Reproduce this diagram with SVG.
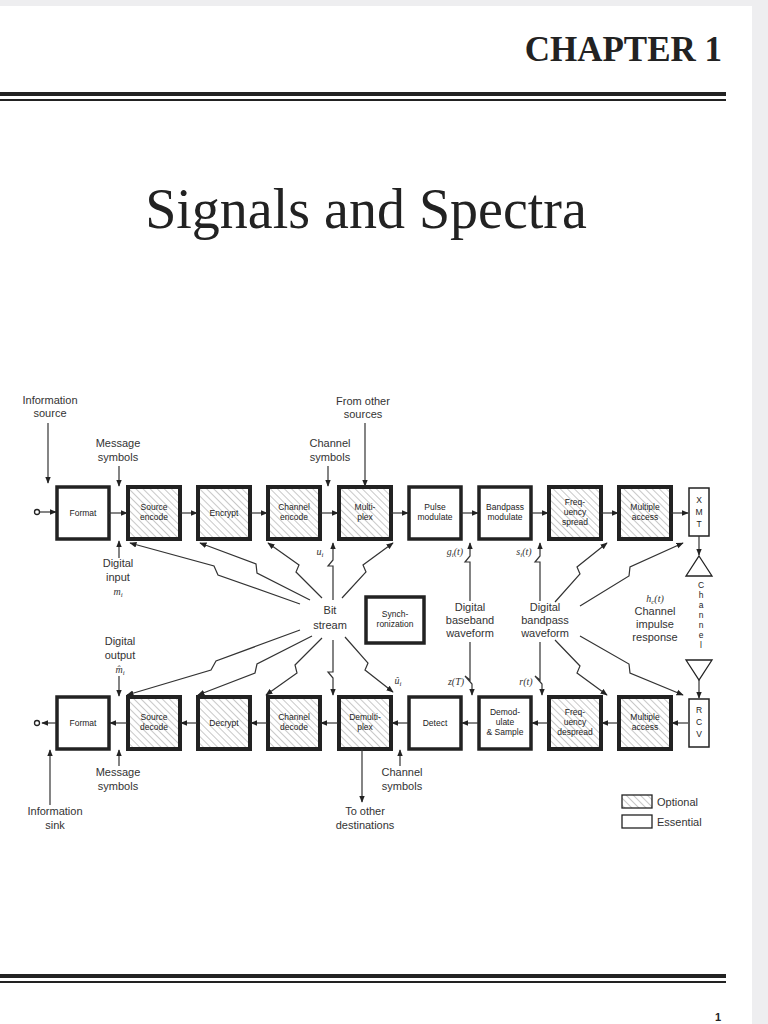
<svg xmlns="http://www.w3.org/2000/svg" width="768" height="1024" viewBox="0 0 768 1024">
<defs>
<pattern id="hatch" width="5" height="5" patternUnits="userSpaceOnUse" patternTransform="rotate(-45)">
<rect width="5" height="5" fill="#fff"/><line x1="0" y1="0" x2="0" y2="5" stroke="#aaa" stroke-width="1.3"/>
</pattern>
<marker id="ah" viewBox="0 0 10 10" refX="9" refY="5" markerWidth="6" markerHeight="6" orient="auto"><path d="M0,1 L10,5 L0,9 Z" fill="#222"/></marker>
</defs>
<style>
.t{font-family:"Liberation Sans",Arial,sans-serif;font-size:11px;fill:#333;text-anchor:middle}
.s{font-family:"Liberation Sans",Arial,sans-serif;font-size:11px;fill:#333}
.b{font-family:"Liberation Sans",Arial,sans-serif;font-size:8.5px;fill:#222;text-anchor:middle}
.m{font-family:"Liberation Serif",serif;font-style:italic;font-size:10px;fill:#333;text-anchor:middle}
.opt{fill:url(#hatch);stroke:#222;stroke-width:4}
.ess{fill:#fff;stroke:#222;stroke-width:3.5}
.thin{fill:#fff;stroke:#222;stroke-width:1.5}
.c{fill:none;stroke:#333;stroke-width:1.2;marker-end:url(#ah)}
</style>
<rect width="768" height="1024" fill="#fff"/>
<rect x="752" y="0" width="16" height="1024" fill="#eeeef0"/>
<rect x="0" y="0" width="768" height="6" fill="#eeeef0"/>
<text x="722" y="61" font-family="Liberation Serif,serif" font-size="35" font-weight="bold" text-anchor="end" fill="#222">CHAPTER 1</text>
<rect x="0" y="92" width="726" height="4" fill="#222"/><rect x="0" y="99" width="726" height="2" fill="#222"/>
<text x="366" y="228" font-family="Liberation Serif,serif" font-size="56" text-anchor="middle" fill="#222">Signals and Spectra</text>
<rect x="0" y="974" width="726" height="4" fill="#222"/><rect x="0" y="981" width="726" height="2" fill="#222"/>
<text x="718" y="1021" font-family="Liberation Sans,sans-serif" font-size="11" font-weight="bold" text-anchor="middle" fill="#222">1</text>

<g id="tx-format"><rect x="57" y="487" width="52" height="52" class="ess"/><text x="83" y="516" class="b">Format</text></g>
<g id="tx-srcenc"><rect x="128" y="487" width="52" height="52" class="opt"/><text x="154" y="510" class="b">Source</text><text x="154" y="520" class="b">encode</text></g>
<g id="tx-encrypt"><rect x="198" y="487" width="52" height="52" class="opt"/><text x="224" y="516" class="b">Encrypt</text></g>
<g id="tx-chenc"><rect x="268" y="487" width="52" height="52" class="opt"/><text x="294" y="510" class="b">Channel</text><text x="294" y="520" class="b">encode</text></g>
<g id="tx-mux"><rect x="339" y="487" width="52" height="52" class="opt"/><text x="365" y="510" class="b">Multi-</text><text x="365" y="520" class="b">plex</text></g>
<g id="tx-pulse"><rect x="409" y="487" width="52" height="52" class="ess"/><text x="435" y="510" class="b">Pulse</text><text x="435" y="520" class="b">modulate</text></g>
<g id="tx-bp"><rect x="479" y="487" width="52" height="52" class="ess"/><text x="505" y="510" class="b">Bandpass</text><text x="505" y="520" class="b">modulate</text></g>
<g id="tx-fs"><rect x="549" y="487" width="52" height="52" class="opt"/><text x="575" y="505" class="b">Freq-</text><text x="575" y="515" class="b">uency</text><text x="575" y="525" class="b">spread</text></g>
<g id="tx-ma"><rect x="619" y="487" width="52" height="52" class="opt"/><text x="645" y="510" class="b">Multiple</text><text x="645" y="520" class="b">access</text></g>
<g id="xmt"><rect x="689" y="488" width="20" height="48" class="thin"/><text x="699" y="503" class="b" font-size="10">X</text><text x="699" y="515" class="b" font-size="10">M</text><text x="699" y="527" class="b" font-size="10">T</text></g>

<g id="rx-format"><rect x="57" y="697" width="52" height="52" class="ess"/><text x="83" y="726" class="b">Format</text></g>
<g id="rx-srcdec"><rect x="128" y="697" width="52" height="52" class="opt"/><text x="154" y="720" class="b">Source</text><text x="154" y="730" class="b">decode</text></g>
<g id="rx-decrypt"><rect x="198" y="697" width="52" height="52" class="opt"/><text x="224" y="726" class="b">Decrypt</text></g>
<g id="rx-chdec"><rect x="268" y="697" width="52" height="52" class="opt"/><text x="294" y="720" class="b">Channel</text><text x="294" y="730" class="b">decode</text></g>
<g id="rx-demux"><rect x="339" y="697" width="52" height="52" class="opt"/><text x="365" y="720" class="b">Demulti-</text><text x="365" y="730" class="b">plex</text></g>
<g id="rx-detect"><rect x="409" y="697" width="52" height="52" class="ess"/><text x="435" y="726" class="b">Detect</text></g>
<g id="rx-demod"><rect x="479" y="697" width="52" height="52" class="ess"/><text x="505" y="715" class="b">Demod-</text><text x="505" y="725" class="b">ulate</text><text x="505" y="735" class="b">&amp; Sample</text></g>
<g id="rx-fd"><rect x="549" y="697" width="52" height="52" class="opt"/><text x="575" y="715" class="b">Freq-</text><text x="575" y="725" class="b">uency</text><text x="575" y="735" class="b">despread</text></g>
<g id="rx-ma"><rect x="619" y="697" width="52" height="52" class="opt"/><text x="645" y="720" class="b">Multiple</text><text x="645" y="730" class="b">access</text></g>
<g id="rcv"><rect x="689" y="699" width="20" height="48" class="thin"/><text x="699" y="713" class="b" font-size="10">R</text><text x="699" y="725" class="b" font-size="10">C</text><text x="699" y="737" class="b" font-size="10">V</text></g>

<g id="sync"><rect x="366" y="597" width="58" height="46" class="ess" stroke-width="3"/><text x="395" y="617" class="b">Synch-</text><text x="395" y="627" class="b">ronization</text></g>
<g id="bitstream"><text x="330" y="614" class="t">Bit</text><text x="330" y="629" class="t">stream</text></g>
<g id="baseband"><text x="470" y="611" class="t">Digital</text><text x="470" y="624" class="t">baseband</text><text x="470" y="637" class="t">waveform</text></g>
<g id="bandpass"><text x="545" y="611" class="t">Digital</text><text x="545" y="624" class="t">bandpass</text><text x="545" y="637" class="t">waveform</text></g>
<g id="channel">
<text x="655" y="602" class="m">h<tspan font-size="7" dy="2">c</tspan><tspan dy="-2">(t)</tspan></text>
<text x="655" y="615" class="t">Channel</text><text x="655" y="628" class="t">impulse</text><text x="655" y="641" class="t">response</text>
<polygon points="699,556 712,576 686,576" fill="#fff" stroke="#222" stroke-width="1.3"/>
<polygon points="686,660 712,660 699,680" fill="#fff" stroke="#222" stroke-width="1.3"/>
<g><text x="701" y="588" class="b" font-size="8">C</text><text x="701" y="598" class="b" font-size="8">h</text><text x="701" y="608" class="b" font-size="8">a</text><text x="701" y="618" class="b" font-size="8">n</text><text x="701" y="628" class="b" font-size="8">n</text><text x="701" y="638" class="b" font-size="8">e</text><text x="701" y="648" class="b" font-size="8">l</text></g>
</g>
<g id="labels">
<text x="50" y="404" class="t">Information</text><text x="50" y="417" class="t">source</text>
<text x="118" y="447" class="t">Message</text><text x="118" y="461" class="t">symbols</text>
<text x="330" y="447" class="t">Channel</text><text x="330" y="461" class="t">symbols</text>
<text x="363" y="405" class="t">From other</text><text x="363" y="418" class="t">sources</text>
<text x="118" y="567" class="t">Digital</text><text x="118" y="581" class="t">input</text><text x="118" y="595" class="m">m<tspan font-size="7" dy="2">i</tspan></text>
<text x="120" y="645" class="t">Digital</text><text x="120" y="659" class="t">output</text><text x="120" y="673" class="m">m̂<tspan font-size="7" dy="2">i</tspan></text>
<text x="118" y="776" class="t">Message</text><text x="118" y="790" class="t">symbols</text>
<text x="55" y="815" class="t">Information</text><text x="55" y="829" class="t">sink</text>
<text x="402" y="776" class="t">Channel</text><text x="402" y="790" class="t">symbols</text>
<text x="365" y="815" class="t">To other</text><text x="365" y="829" class="t">destinations</text>
<text x="320" y="555" class="m">u<tspan font-size="7" dy="2">i</tspan></text>
<text x="398" y="684" class="m">û<tspan font-size="7" dy="2">i</tspan></text>
<text x="455" y="555" class="m">g<tspan font-size="7" dy="2">i</tspan><tspan dy="-2">(t)</tspan></text>
<text x="524" y="555" class="m">s<tspan font-size="7" dy="2">i</tspan><tspan dy="-2">(t)</tspan></text>
<text x="456" y="685" class="m">z(T)</text>
<text x="526" y="685" class="m">r(t)</text>
</g>
<g id="legend">
<rect x="622" y="795" width="30" height="13" fill="url(#hatch)" stroke="#222" stroke-width="1.3"/><text x="657" y="806" class="s">Optional</text>
<rect x="622" y="815" width="30" height="13" fill="#fff" stroke="#222" stroke-width="1.3"/><text x="657" y="826" class="s">Essential</text>
</g>

<g id="connectors">
<circle cx="37" cy="512" r="2.5" fill="#fff" stroke="#222" stroke-width="1.3"/>
<line x1="40" y1="512" x2="56" y2="512" class="c"/>
<line x1="109" y1="513" x2="127" y2="513" class="c"/>
<line x1="180" y1="513" x2="197" y2="513" class="c"/>
<line x1="250" y1="513" x2="267" y2="513" class="c"/>
<line x1="320" y1="513" x2="338" y2="513" class="c"/>
<line x1="391" y1="513" x2="408" y2="513" class="c"/>
<line x1="461" y1="513" x2="478" y2="513" class="c"/>
<line x1="531" y1="513" x2="548" y2="513" class="c"/>
<line x1="601" y1="513" x2="618" y2="513" class="c"/>
<line x1="671" y1="513" x2="688" y2="513" class="c"/>
<line x1="699" y1="536" x2="699" y2="555" class="c"/>
<line x1="699" y1="680" x2="699" y2="698" class="c"/>
<line x1="688" y1="723" x2="672" y2="723" class="c"/>
<line x1="618" y1="723" x2="602" y2="723" class="c"/>
<line x1="548" y1="723" x2="532" y2="723" class="c"/>
<line x1="478" y1="723" x2="462" y2="723" class="c"/>
<line x1="408" y1="723" x2="392" y2="723" class="c"/>
<line x1="338" y1="723" x2="321" y2="723" class="c"/>
<line x1="267" y1="723" x2="251" y2="723" class="c"/>
<line x1="197" y1="723" x2="181" y2="723" class="c"/>
<line x1="127" y1="723" x2="110" y2="723" class="c"/>
<line x1="56" y1="723" x2="42" y2="723" class="c"/>
<circle cx="37" cy="723" r="2.5" fill="#fff" stroke="#222" stroke-width="1.3"/>
<line x1="48" y1="423" x2="48" y2="483" class="c"/>
<line x1="119" y1="466" x2="119" y2="486" class="c"/>
<line x1="119" y1="558" x2="119" y2="541" class="c"/>
<line x1="328" y1="466" x2="328" y2="486" class="c"/>
<line x1="365" y1="423" x2="365" y2="486" class="c"/>
<line x1="119" y1="676" x2="119" y2="696" class="c"/>
<line x1="119" y1="766" x2="119" y2="750" class="c"/>
<line x1="50" y1="805" x2="50" y2="750" class="c"/>
<line x1="400" y1="766" x2="400" y2="750" class="c"/>
<line x1="362" y1="749" x2="362" y2="802" class="c"/>
<path d="M300,604 L218,575 L214,566 L130,543" class="c"/>
<path d="M310,600 L257,573 L256,564 L200,543" class="c"/>
<path d="M322,598 L296,572 L299,565 L268,543" class="c"/>
<path d="M333,600 L333,566 L328,566 L333,560 L333,543" class="c"/>
<path d="M342,598 L366,572 L363,565 L393,543" class="c"/>
<path d="M300,630 L216,661 L211,670 L127,695" class="c"/>
<path d="M312,636 L257,664 L255,673 L198,695" class="c"/>
<path d="M322,638 L295,665 L297,673 L266,695" class="c"/>
<path d="M333,640 L333,672 L328,672 L333,678 L333,695" class="c"/>
<path d="M345,637 L368,663 L365,670 L393,692" class="c"/>
<path d="M470,601 L470,562 L465,562 L470,556 L470,543" class="c"/>
<path d="M540,601 L540,562 L535,562 L540,556 L540,543" class="c"/>
<path d="M470,642 L470,680 L465,676 L472,684 L472,695" class="c"/>
<path d="M540,642 L540,680 L535,676 L542,684 L542,695" class="c"/>
<path d="M555,602 L580,574 L577,567 L607,543" class="c"/>
<path d="M580,606 L629,576 L630,567 L683,543" class="c"/>
<path d="M555,640 L580,666 L577,673 L607,695" class="c"/>
<path d="M580,636 L629,664 L630,673 L683,695" class="c"/>
</g>
</svg>
